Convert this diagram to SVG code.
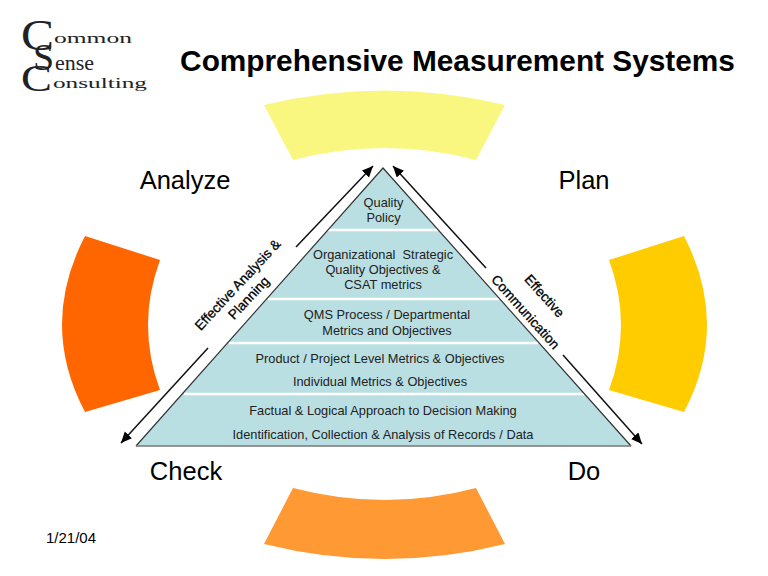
<svg xmlns="http://www.w3.org/2000/svg" width="768" height="576" viewBox="0 0 768 576">
<defs>
<style>
text{font-family:"Liberation Sans",Arial,sans-serif;fill:#000}
.t{font-size:12.8px;text-anchor:middle;fill:#222;white-space:pre}
.p{font-size:25.500px;text-anchor:middle}
.r{font-size:13.600px;text-anchor:middle;stroke:#000;stroke-width:.3}
.w{stroke:#fff;stroke-width:2.5}
.a{stroke:#111;stroke-width:1.5;fill:none;marker-end:url(#h)}
.l{font-family:"Liberation Serif",serif;fill:#222}
</style>
<marker id="h" markerUnits="userSpaceOnUse" markerWidth="14" markerHeight="12" refX="11" refY="5" orient="auto"><path d="M0 0L11 5L0 10Z" fill="#000"/></marker>
</defs>
<rect width="768" height="576" fill="#fff"/>
<g id="logo">
<text class="l" x="21" y="50" font-size="45" textLength="33" lengthAdjust="spacingAndGlyphs">C</text>
<text class="l" x="54" y="43" font-size="15" textLength="78" lengthAdjust="spacingAndGlyphs">ommon</text>
<text class="l" x="33" y="70" font-size="38">S</text>
<text class="l" x="55" y="70" font-size="20" textLength="39" lengthAdjust="spacingAndGlyphs">ense</text>
<text class="l" x="21" y="91" font-size="38" textLength="31" lengthAdjust="spacingAndGlyphs">C</text>
<text class="l" x="53" y="88" font-size="15.500" textLength="94" lengthAdjust="spacingAndGlyphs">onsulting</text>
</g>
<text id="title" x="457.500" y="71" font-size="29.800" font-weight="700" text-anchor="middle">Comprehensive Measurement Systems</text>
<g id="arc-top"><path d="M264 105Q385 76 505 105L476 160Q385 136 293 160Z" fill="#f9f77f"/></g>
<g id="arc-left"><path d="M85 236Q39 325 85 412L160 390Q136 325 160 260Z" fill="#ff6600"/></g>
<g id="arc-right"><path d="M684 236Q730 325 684 412L609 390Q633 325 609 260Z" fill="#ffcc00"/></g>
<g id="arc-bottom"><path d="M293 488Q385 512 476 488L505 544Q385 574 264 544Z" fill="#ff9933"/></g>
<g id="pyramid">
<path d="M383 168L631 446H136Z" fill="#b9dfe3"/>
<path class="w" d="M328 230H438M268 299H499M229 343H538M184 394H584"/>
<path d="M136 446L383 168L631 446" fill="none" stroke="#333" stroke-width="1.200"/>
<path d="M136 446H631" stroke="#777" stroke-width="1.500"/>
</g>
<g id="connectors">
<path class="a" d="M296 247L373 166"/>
<path class="a" d="M208 348L121 443"/>
<path class="a" d="M486 268L393 166"/>
<path class="a" d="M563 355L642 444"/>
</g>
<g id="pyramid-labels">
<text class="t" x="383.500" y="207">Quality</text>
<text class="t" x="383.500" y="222">Policy</text>
<text class="t" x="383" y="259">Organizational  Strategic</text>
<text class="t" x="383" y="274">Quality Objectives &amp;</text>
<text class="t" x="383" y="289">CSAT metrics</text>
<text class="t" x="387" y="319">QMS Process / Departmental</text>
<text class="t" x="387" y="335">Metrics and Objectives</text>
<text class="t" x="380" y="363">Product / Project Level Metrics &amp; Objectives</text>
<text class="t" x="380" y="386">Individual Metrics &amp; Objectives</text>
<text class="t" x="383" y="415">Factual &amp; Logical Approach to Decision Making</text>
<text class="t" x="383" y="439">Identification, Collection &amp; Analysis of Records / Data</text>
</g>
<g id="side-labels">
<text class="r" transform="translate(241 288) rotate(-47)">Effective Analysis &amp;</text>
<text class="r" transform="translate(252 301) rotate(-47)">Planning</text>
<text class="r" transform="translate(541 299) rotate(48)">Effective</text>
<text class="r" transform="translate(522 315) rotate(48)">Communication</text>
</g>
<g id="phases">
<text class="p" x="185" y="189">Analyze</text>
<text class="p" x="584" y="189">Plan</text>
<text class="p" x="186" y="480">Check</text>
<text class="p" x="584" y="480">Do</text>
</g>
<text id="date" x="46" y="543" font-size="15">1/21/04</text>
</svg>
